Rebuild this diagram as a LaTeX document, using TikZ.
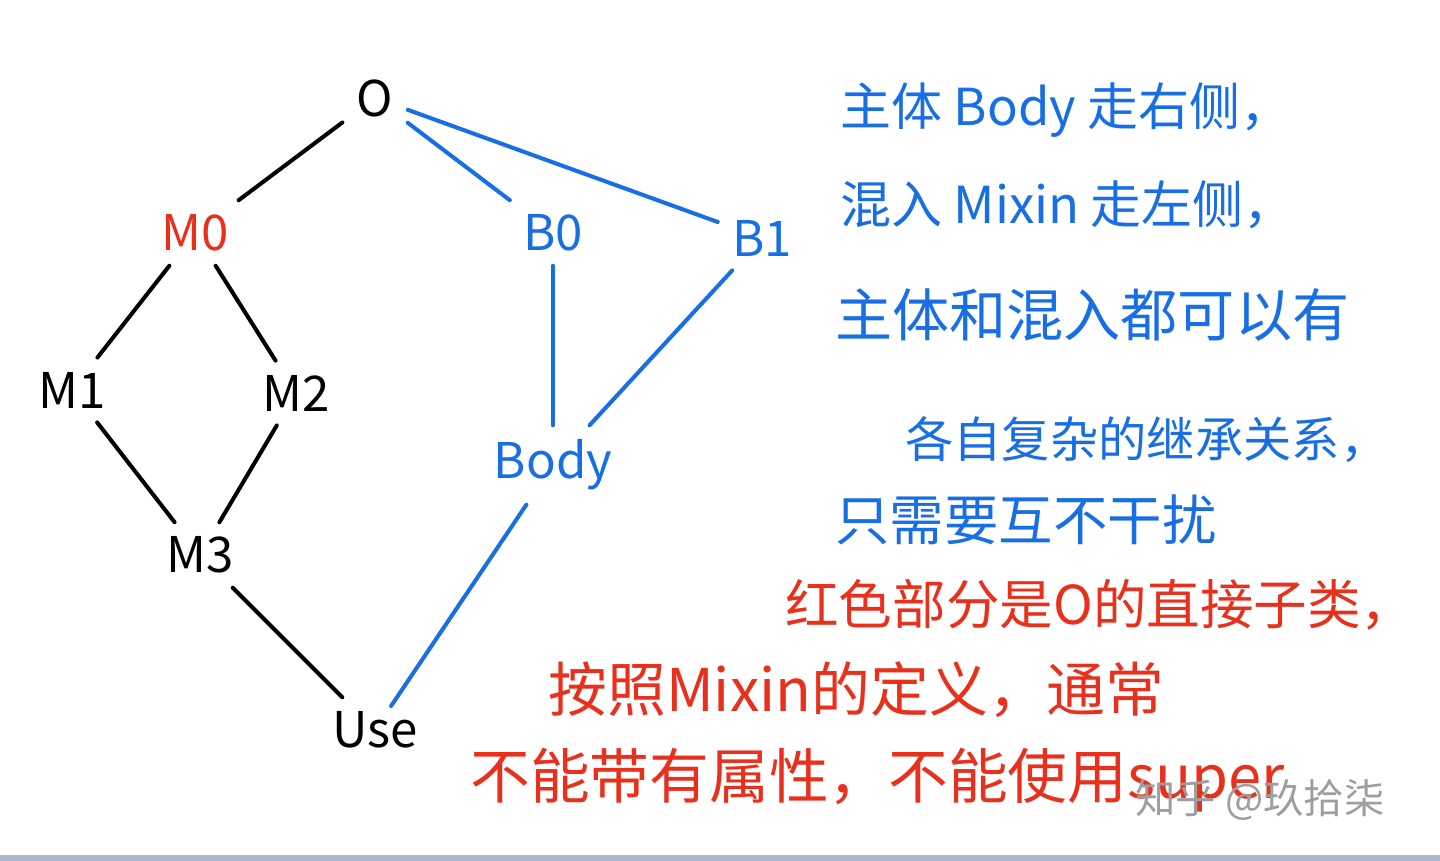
\documentclass[tikz,border=0pt]{standalone}
\usepackage{fontspec}
\setmainfont{Noto Sans CJK SC}
\definecolor{penblue}{RGB}{24,110,228}
\definecolor{penred}{RGB}{232,48,28}
\definecolor{barblue}{RGB}{168,184,204}
\tikzset{
  cls/.style={inner sep=8pt, font=\fontsize{28}{30}\selectfont},
  note/.style={anchor=west, inner sep=0pt, font=\fontsize{#1}{#1}\selectfont},
  note/.default=29,
  edge/.style={line width=2.3pt, line cap=round},
}

\begin{document}
\begin{tikzpicture}[x=0.02cm,y=-0.02cm]
  \useasboundingbox (0,0) rectangle (1440,861);
  % bottom bar
  \fill[barblue] (0,855) rectangle (1440,861);

  % class labels
  \node[cls] (o) at (375,98) {O};
  \node[cls,text=penred] (m0) at (195,233) {M0};
  \node[cls] (m1) at (72,390) {M1};
  \node[cls] (m2) at (296,393) {M2};
  \node[cls] (m3) at (200,555) {M3};
  \node[cls] (use) at (375,730) {Use};
  \node[cls,text=penblue] (b0) at (553,233) {B0};
  \node[cls,text=penblue] (b1) at (762,238) {B1};
  \node[cls,text=penblue] (body) at (553,465) {Body};

  % mixin side
  \draw[edge] (o) -- (m0);
  \draw[edge] (m0) -- (m1);
  \draw[edge] (m0) -- (m2);
  \draw[edge] (m1) -- (m3);
  \draw[edge] (m2) -- (m3);
  \draw[edge] (m3) -- (use);

  % body side
  \draw[edge,penblue] (o) -- (b0);
  \draw[edge,penblue] (o) -- (b1);
  \draw[edge,penblue] (b0) -- (body);
  \draw[edge,penblue] (b1) -- (body);
  \draw[edge,penblue,shorten >=-6pt] (body) -- (use);

  % notes
  \node[note,text=penblue] (n1) at (840,110) {主体 Body 走右侧，};
  \node[note,text=penblue] (n2) at (840,205) {混入 Mixin 走左侧，};
  \node[note=32.5,text=penblue] (n3) at (835,315) {主体和混入都可以有};
  \node[note=27.5,text=penblue] (n4) at (905,440) {各自复杂的继承关系，};
  \node[note=31,text=penblue] (n5) at (835,520) {只需要互不干扰};
  \node[note=30.5,text=penred] (n6) at (785,605) {红色部分是O的直接子类，};
  \node[note=33.5,text=penred] (n7) at (548,690) {按照Mixin的定义，通常};
  \node[note=34,text=penred] (n8) at (470,780) {不能带有属性，不能使用super};

  % watermark
  \node[note=23,text=black!38] (wm) at (1135,800) {知乎 @玖拾柒};
\end{tikzpicture}
\end{document}
